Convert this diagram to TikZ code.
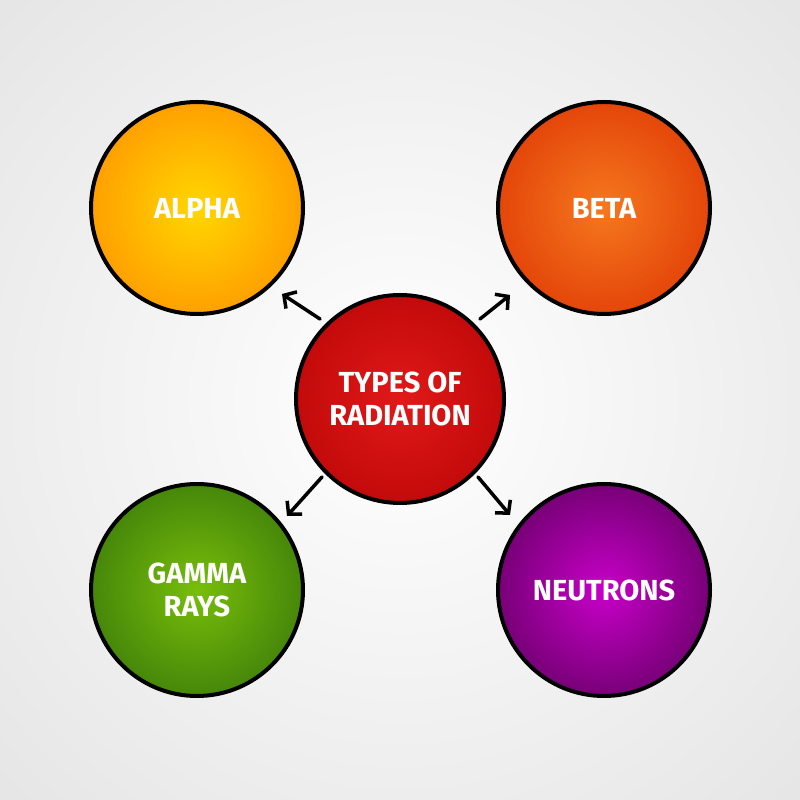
\documentclass[tikz,border=0pt]{standalone}
\usepackage{fontspec}
\setmainfont{Fira Sans}
\usetikzlibrary{arrows.meta}
\begin{document}
\begin{tikzpicture}[x=1pt,y=1pt,
  circ/.style={circle, draw=black, line width=4pt, minimum size=212pt, inner sep=0pt, text=white, font=\bfseries\fontsize{29}{33}\selectfont, align=center},
  conn/.style={line width=3.5pt, line cap=round, -{Straight Barb[length=9pt,width=20pt,line width=3.5pt]}}]
\definecolor{bgedge}{RGB}{228,228,228}
\useasboundingbox (0,0) rectangle (800,800);
\shade[inner color=white, outer color=bgedge] (-200,-200) rectangle (1000,1000);
\node[circ, inner color={rgb,255:red,255;green,215;blue,0}, outer color={rgb,255:red,255;green,160;blue,0}] (a) at (197,592) {ALPHA};
\node[circ, inner color={rgb,255:red,245;green,120;blue,30}, outer color={rgb,255:red,228;green,70;blue,10}] (b) at (604,592) {BETA};
\node[circ, minimum size=208pt, inner color={rgb,255:red,225;green,25;blue,25}, outer color={rgb,255:red,195;green,10;blue,10}] (c) at (400,401) {TYPES OF\\RADIATION};
\node[circ, inner color={rgb,255:red,120;green,190;blue,10}, outer color={rgb,255:red,70;green,135;blue,10}] (g) at (197,210) {GAMMA\\RAYS};
\node[circ, inner color={rgb,255:red,200;green,0;blue,200}, outer color={rgb,255:red,120;green,0;blue,120}] (n) at (604,210) {NEUTRONS};
\coordinate (ta) at (282,506);
\coordinate (tb) at (510,505);
\coordinate (tg) at (287,284);
\coordinate (tn) at (510,285);
\draw[conn] (c.135) ++(-5,5) -- (ta);
\draw[conn] (c.45) ++(5,5) -- (tb);
\draw[conn] (c.225) ++(-3,-3) -- (tg);
\draw[conn] (c.315) ++(3,-3) -- (tn);
\end{tikzpicture}
\end{document}
